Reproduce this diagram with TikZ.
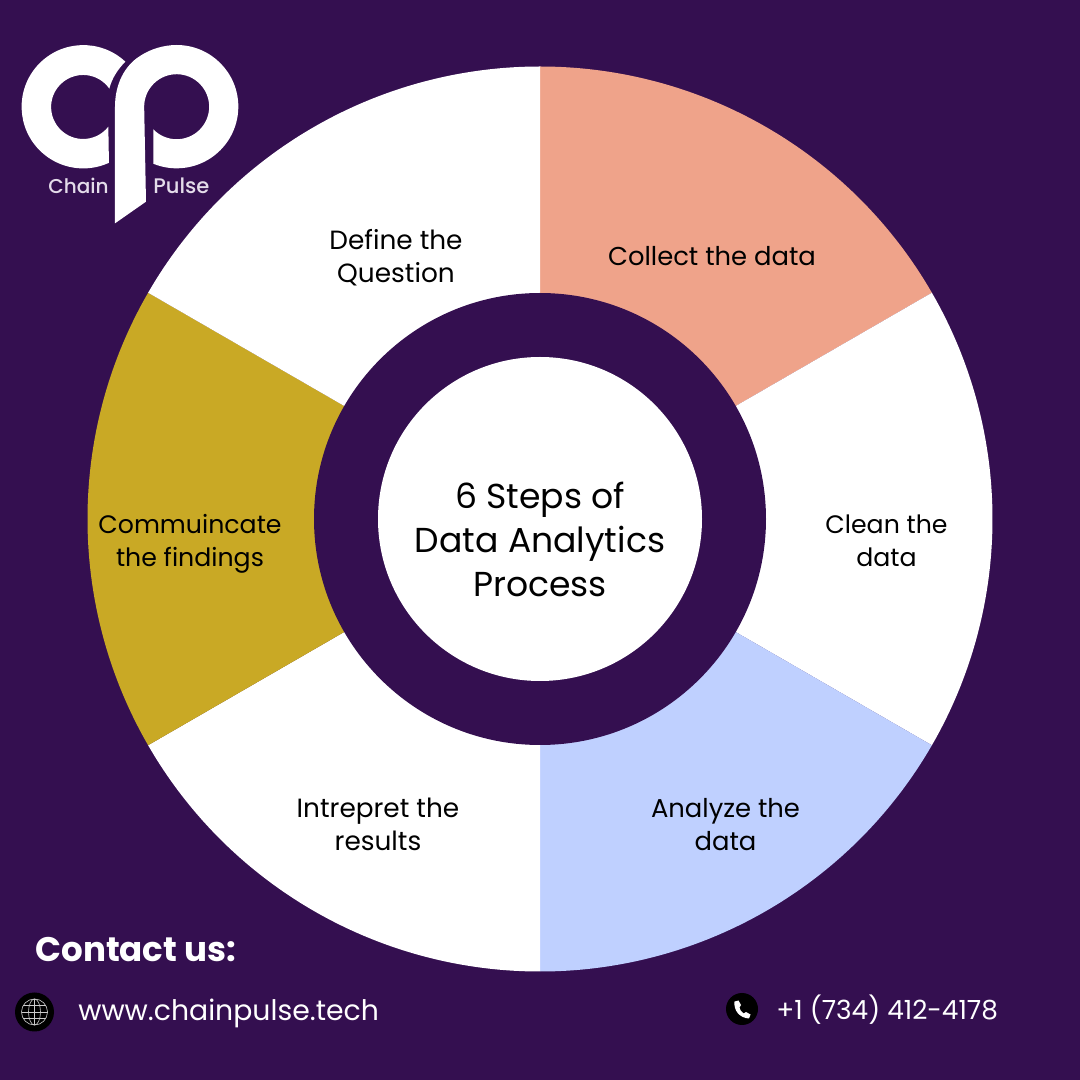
\documentclass[tikz,border=0pt]{standalone}
\usepackage{fontspec}
\setmainfont{Poppins}
\newfontfamily\logofont{Poppins Medium}
\definecolor{bgpurple}{HTML}{340F50}
\definecolor{salmon}{HTML}{EFA38A}
\definecolor{periwinkle}{HTML}{BFD0FF}
\definecolor{gold}{HTML}{C9A925}
\definecolor{logotext}{HTML}{E4DCEA}
\tikzset{
  steptext/.style={text=black,align=center,inner sep=0pt,font=\fontsize{14.7}{18.8}\selectfont},
  widestep/.style={steptext,font=\fontsize{15}{18.8}\selectfont},
  tightstep/.style={steptext,font=\fontsize{14.35}{18.8}\selectfont},
  centertext/.style={text=black,align=center,inner sep=0pt,font=\fontsize{19.7}{25}\selectfont},
  wedge/.style={draw=none},
  hubring/.style={circle,fill=bgpurple,minimum size=452*0.02cm,inner sep=0pt},
  hubdisc/.style={circle,fill=white,minimum size=324*0.02cm,inner sep=0pt},
  foottext/.style={text=white,anchor=base west,inner sep=0pt,font=\fontsize{16.1}{20}\selectfont},
  logotxt/.style={text=logotext,anchor=base west,inner sep=0pt,font=\logofont\fontsize{11.4}{12}\selectfont},
  iconbg/.style={circle,fill=black,inner sep=0pt},
}
\begin{document}
\begin{tikzpicture}[x=0.02cm,y=0.02cm]
\useasboundingbox (0,0) rectangle (1080,1080);
\fill[bgpurple] (0,0) rectangle (1080,1080);
\coordinate (c) at (540,561);
% wheel
\fill[wedge,salmon] (c) -- ++(90:452.5) arc[start angle=90,end angle=30,radius=452.5] -- cycle;
\fill[wedge,white] (c) -- ++(30:452.5) arc[start angle=30,end angle=-30,radius=452.5] -- cycle;
\fill[wedge,periwinkle] (c) -- ++(-30:452.5) arc[start angle=-30,end angle=-90,radius=452.5] -- cycle;
\fill[wedge,white] (c) -- ++(-90:452.5) arc[start angle=-90,end angle=-150,radius=452.5] -- cycle;
\fill[wedge,gold] (c) -- ++(-150:452.5) arc[start angle=-150,end angle=-210,radius=452.5] -- cycle;
\fill[wedge,white] (c) -- ++(150:452.5) arc[start angle=150,end angle=90,radius=452.5] -- cycle;
\node[hubring] (ring) at (c) {};
\node[hubdisc] (hub) at (c) {};
\node[centertext] (title) at (540,540.5) {6 Steps of\\Data Analytics\\Process};
\node[widestep] (define) at (396,822) {Define the\\Question};
\node[steptext] (collect) at (712,824) {Collect the data};
\node[tightstep] (clean) at (886.5,539.5) {Clean the\\data};
\node[steptext] (analyze) at (725.5,255.5) {Analyze the\\data};
\node[widestep] (interpret) at (378,255.5) {Intrepret the\\results};
\node[tightstep] (communicate) at (190,536) {Commuincate\\the findings};
% logo
\begin{scope}[shift={(0,1050)},scale=0.33333]
\fill[white] (376,-95) arc[start angle=47,end angle=294.6,radius=185]
  -- (325,-290) arc[start angle=-38,end angle=-325,radius=96]
  .. controls (336,-145) and (352,-120) .. (376,-95) -- cycle;
\fill[white] (345,-580) -- (345,-230)
  .. controls (345,-165) and (372,-108) .. (420,-78)
  .. controls (450,-58) and (490,-45) .. (530,-45)
  arc[start angle=90,end angle=-112.2,radius=185]
  -- (460,-298) arc[start angle=-135.9,end angle=180,radius=97.5] -- (438,-515) -- cycle;
\end{scope}
\node[logotxt] (chain) at (48,886) {Chain};
\node[logotxt,font=\logofont\fontsize{12}{12}\selectfont] (pulse) at (153,886) {Pulse};
% footer
\node[foottext,font=\fontsize{19.4}{22}\selectfont\bfseries] (contact) at (35,118) {Contact us:};
\node[foottext] (web) at (78,59) {www.chainpulse.tech};
\node[foottext,font=\fontsize{15}{20}\selectfont] (phone) at (776,60) {+1 (734) 412-4178};
\node[iconbg,minimum size=39*0.02cm] (globe) at (34.5,68) {};
\begin{scope}[shift={(34.5,68)},draw=white!80!black,line width=0.35pt]
\draw (0,0) circle[radius=13];
\draw (0,0) ellipse[x radius=6,y radius=13];
\draw (0,-13) -- (0,13) (-13,0) -- (13,0) (-11.3,6.5) -- (11.3,6.5) (-11.3,-6.5) -- (11.3,-6.5);
\end{scope}
\node[iconbg,minimum size=32*0.02cm] (phoneicon) at (742,71) {};
\fill[white] (734.5,78.5) .. controls (733.5,69) and (740,62) .. (749,61.5)
  -- (750.5,65.5) -- (746,68) -- (743.5,66.5) .. controls (741,68.5) and (740,70) .. (739.5,72.5)
  -- (741,75) -- (738.5,79.5) -- cycle;
\end{tikzpicture}
\end{document}
